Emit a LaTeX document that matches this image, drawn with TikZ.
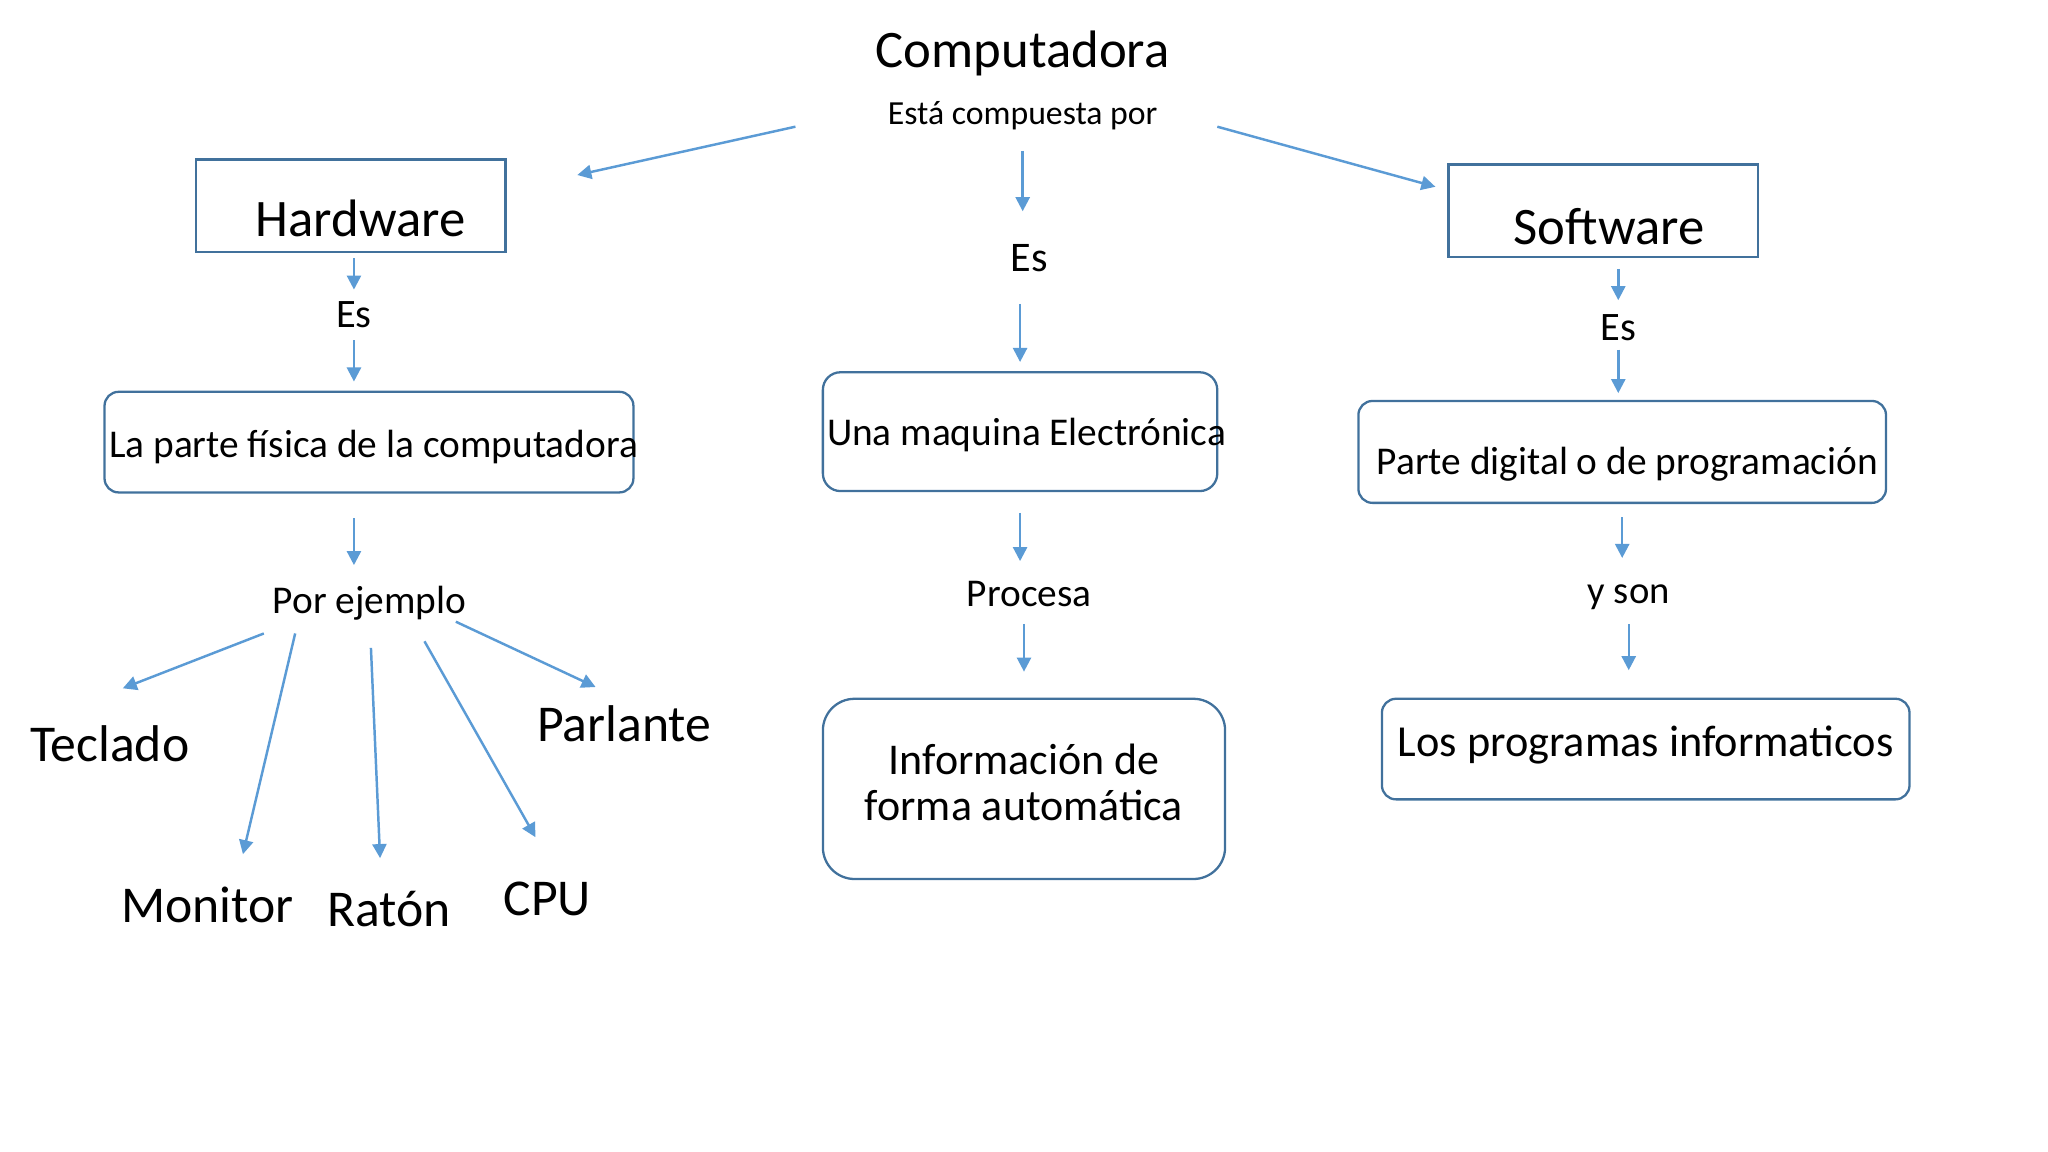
\documentclass[tikz,border=0pt]{standalone}
\usepackage{fontspec}
\setmainfont{Carlito}
\usepackage{tikz}
\usetikzlibrary{arrows.meta,positioning}

\definecolor{lineblue}{HTML}{5B9BD5}
\definecolor{boxblue}{HTML}{41719C}

\tikzset{
  arr/.style={draw=lineblue, line width=0.7pt, -{Triangle[length=4pt,width=4pt]}},
  box/.style={draw=boxblue, line width=0.65pt, inner sep=0pt},
  rbox/.style={box, rounded corners=#1},
  txt/.style={inner sep=0pt, anchor=base},
  big/.style={font=\fontsize{15}{18}\selectfont},
  mid/.style={font=\fontsize{11.2}{13}\selectfont},
}

\begin{document}
\begin{tikzpicture}[x=0.01306cm, y=-0.01306cm]
\useasboundingbox (0,0) rectangle (1568,882);

% titulo
\node[txt, big] (comp) at (783,52) {Computadora};
\node[txt, font=\fontsize{9.6}{12}\selectfont] (sub) at (783,95) {Está compuesta por};

% cajas
\node[box, minimum width=3.095cm, minimum height=0.927cm] (hw) at (268.5,157.5) {};
\node[box, minimum width=3.095cm, minimum height=0.927cm] (sw) at (1227.5,161.5) {};
\node[rbox=4pt, minimum width=5.289cm, minimum height=1.006cm] (fis) at (282.5,338.5) {};
\node[rbox=5pt, minimum width=3.944cm, minimum height=1.188cm] (maq) at (781,330.5) {};
\node[rbox=4pt, minimum width=5.276cm, minimum height=1.019cm] (dig) at (1242,346) {};
\node[rbox=9pt, minimum width=4.022cm, minimum height=1.802cm] (info) at (784,604) {};
\node[rbox=4pt, minimum width=5.276cm, minimum height=1.006cm] (prog) at (1260,573.5) {};

% textos
\node[txt, big] (hwt) at (276,181) {Hardware};
\node[txt, big] (swt) at (1232,187) {Software};
\node[txt, font=\fontsize{11.5}{13}\selectfont] (es1) at (271,251) {Es};
\node[txt, font=\fontsize{12}{14}\selectfont] (es2) at (788,208) {Es};
\node[txt, font=\fontsize{11.5}{13}\selectfont] (es3) at (1239,261) {Es};
\node[txt, mid] (fist) at (286,350) {La parte física de la computadora};
\node[txt, mid] (maqt) at (786,341) {Una maquina Electrónica};
\node[txt, mid] (digt) at (1246,363) {Parte digital o de programación};
\node[txt, mid] (pe) at (283,470) {Por ejemplo};
\node[txt, mid] (proc) at (788,464) {Procesa};
\node[txt, font=\fontsize{11}{13}\selectfont] (yson) at (1247,462) {y son};
\node[txt, font=\fontsize{12.6}{14}\selectfont] (progt) at (1260,579) {Los programas informaticos};
\node[txt, font=\fontsize{12.5}{13}\selectfont, align=center] (infot) at (784,628) {Información de\\forma automática};

% ejemplos
\node[txt, font=\fontsize{14.7}{17}\selectfont] (tec) at (84,583) {Teclado};
\node[txt, font=\fontsize{14.7}{17}\selectfont] (par) at (478,568) {Parlante};
\node[txt, font=\fontsize{14.7}{17}\selectfont] (mon) at (159,706) {Monitor};
\node[txt, font=\fontsize{14.7}{17}\selectfont] (rat) at (298,709) {Ratón};
\node[txt, font=\fontsize{14.7}{17}\selectfont] (cpu) at (419,701) {CPU};

% flechas diagonales
\coordinate (compL) at (609,97);
\coordinate (hwIn) at (442,134);
\coordinate (compR) at (932,97);
\coordinate (swIn) at (1099,143);
\draw[arr] (compL) -- (hwIn);
\draw[arr] (compR) -- (swIn);

% centro
\draw[arr, shorten <=5.9pt, shorten >=9.3pt] (sub.south) -- (sub.south |- es2.north);
\draw[arr, shorten <=8.9pt, shorten >=2.6pt] (es2.south -| maq) -- (maq.north);
\draw[arr, shorten <=5.9pt, shorten >=5.4pt] (maq.south) -- (maq.south |- proc.north);
\draw[arr, shorten <=4.8pt, shorten >=7.4pt] (proc.south -| info) -- (info.north);

% izquierda
\draw[arr, shorten <=1.5pt, shorten >=3.3pt] (hw.south -| es1) -- (es1.north);
\draw[arr, shorten <=3.3pt, shorten >=2.6pt] (es1.south) -- (es1.south |- fis.north);
\draw[arr, shorten <=7pt, shorten >=5.9pt] (fis.south -| es1) -- (es1 |- pe.north);

% derecha
\draw[arr, shorten <=3pt, shorten >=4pt] (sw.south -| es3) -- (es3.north);
\draw[arr, shorten <=2.2pt, shorten >=1.9pt] (es3.south) -- (es3.south |- dig.north);
\draw[arr, shorten <=3.7pt, shorten >=7.4pt] (dig.south) -- (dig.south |- yson.north);
\draw[arr, shorten <=4pt, shorten >=7.8pt] (yson.south) -- (yson.south |- prog.north);

% ejemplos de hardware
\coordinate (pe1) at (202,485);
\coordinate (pe2) at (226,485);
\coordinate (pe3) at (284,496);
\coordinate (pe4) at (325,491);
\coordinate (pe5) at (349,476);
\coordinate (tecIn) at (94,527);
\coordinate (monIn) at (186,654);
\coordinate (ratIn) at (291,657);
\coordinate (cpuIn) at (410,641);
\coordinate (parIn) at (456,526);
\draw[arr] (pe1) -- (tecIn);
\draw[arr] (pe2) -- (monIn);
\draw[arr] (pe3) -- (ratIn);
\draw[arr] (pe4) -- (cpuIn);
\draw[arr] (pe5) -- (parIn);
\end{tikzpicture}
\end{document}
